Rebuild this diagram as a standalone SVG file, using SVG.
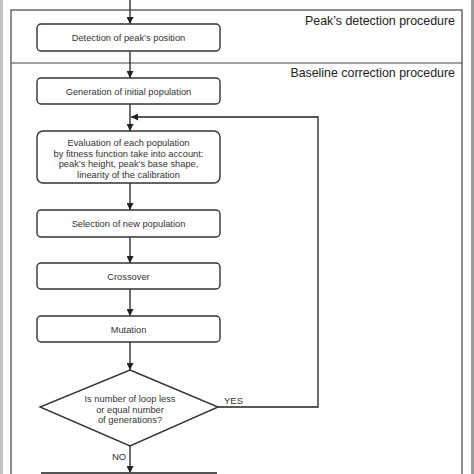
<svg xmlns="http://www.w3.org/2000/svg" width="474" height="474" viewBox="0 0 474 474">
<defs>
<marker id="ah" viewBox="0 0 10 10" refX="10" refY="5" markerWidth="7" markerHeight="7" markerUnits="userSpaceOnUse" orient="auto">
<path d="M0,0 L10,5 L0,10 z" fill="#222"/>
</marker>
</defs>
<style>
.box{fill:#fff;stroke:#333;stroke-width:1.4}
.frame{fill:none;stroke:#444;stroke-width:1.2}
.t{font-family:"Liberation Sans",Arial,sans-serif;font-size:9.3px;fill:#333;text-anchor:middle}
.h{font-family:"Liberation Sans",Arial,sans-serif;font-size:12.4px;fill:#222;text-anchor:end}
.c{fill:none;stroke:#222;stroke-width:1.3}
.l{font-family:"Liberation Sans",Arial,sans-serif;font-size:9.5px;fill:#333}
</style>
<rect x="0" y="0" width="474" height="474" fill="#fff"/>
<rect x="0" y="0" width="3" height="474" fill="#c4c4c4"/>
<rect x="471" y="0" width="3" height="474" fill="#9a9a9a"/>
<g id="frames">
<rect class="frame" x="11" y="10" width="451" height="470"/>
<line class="frame" x1="11" y1="63" x2="462" y2="63"/>
<text class="h" x="455" y="25">Peak’s detection procedure</text>
<text class="h" x="455" y="77">Baseline correction procedure</text>
</g>
<g id="connectors">
<line class="c" x1="130" y1="0" x2="130" y2="24" marker-end="url(#ah)"/>
<line class="c" x1="130" y1="51" x2="130" y2="78" marker-end="url(#ah)"/>
<line class="c" x1="130" y1="104" x2="130" y2="131" marker-end="url(#ah)"/>
<polyline class="c" points="218,407 318,407 318,117 131,117" marker-end="url(#ah)"/>
<line class="c" x1="130" y1="183" x2="130" y2="210" marker-end="url(#ah)"/>
<line class="c" x1="130" y1="237" x2="130" y2="263" marker-end="url(#ah)"/>
<line class="c" x1="130" y1="289" x2="130" y2="316" marker-end="url(#ah)"/>
<line class="c" x1="130" y1="342" x2="130" y2="370" marker-end="url(#ah)"/>
<line class="c" x1="130" y1="446" x2="130" y2="473" marker-end="url(#ah)"/>
<text class="l" x="224" y="404">YES</text>
<text class="l" x="112" y="460">NO</text>
</g>
<g id="n1"><rect class="box" x="37" y="24" width="183" height="27" rx="4"/><text class="t" x="128.5" y="41">Detection of peak’s position</text></g>
<g id="n2"><rect class="box" x="37" y="78" width="183" height="26" rx="4"/><text class="t" x="128.5" y="94.5">Generation of initial population</text></g>
<g id="n3"><rect class="box" x="37" y="131" width="183" height="52" rx="6"/>
<text class="t" x="128.5" y="146">Evaluation of each population</text>
<text class="t" x="128.5" y="156.5">by fitness function take into account:</text>
<text class="t" x="128.5" y="167">peak’s height, peak’s base shape,</text>
<text class="t" x="128.5" y="177.5">linearity of the calibration</text></g>
<g id="n4"><rect class="box" x="37" y="210" width="183" height="27" rx="4"/><text class="t" x="128.5" y="227">Selection of new population</text></g>
<g id="n5"><rect class="box" x="37" y="263" width="183" height="26" rx="4"/><text class="t" x="128.5" y="279.5">Crossover</text></g>
<g id="n6"><rect class="box" x="37" y="316" width="183" height="26" rx="4"/><text class="t" x="128.5" y="332.5">Mutation</text></g>
<g id="n7"><polygon class="box" points="130,370 218,407 130,446 40,407"/>
<text class="t" x="130" y="402">Is number of loop less</text>
<text class="t" x="130" y="412.5">or equal number</text>
<text class="t" x="130" y="423">of generations?</text></g>
<g id="n8"><rect x="41" y="472" width="176" height="6" fill="#555"/></g>
</svg>
